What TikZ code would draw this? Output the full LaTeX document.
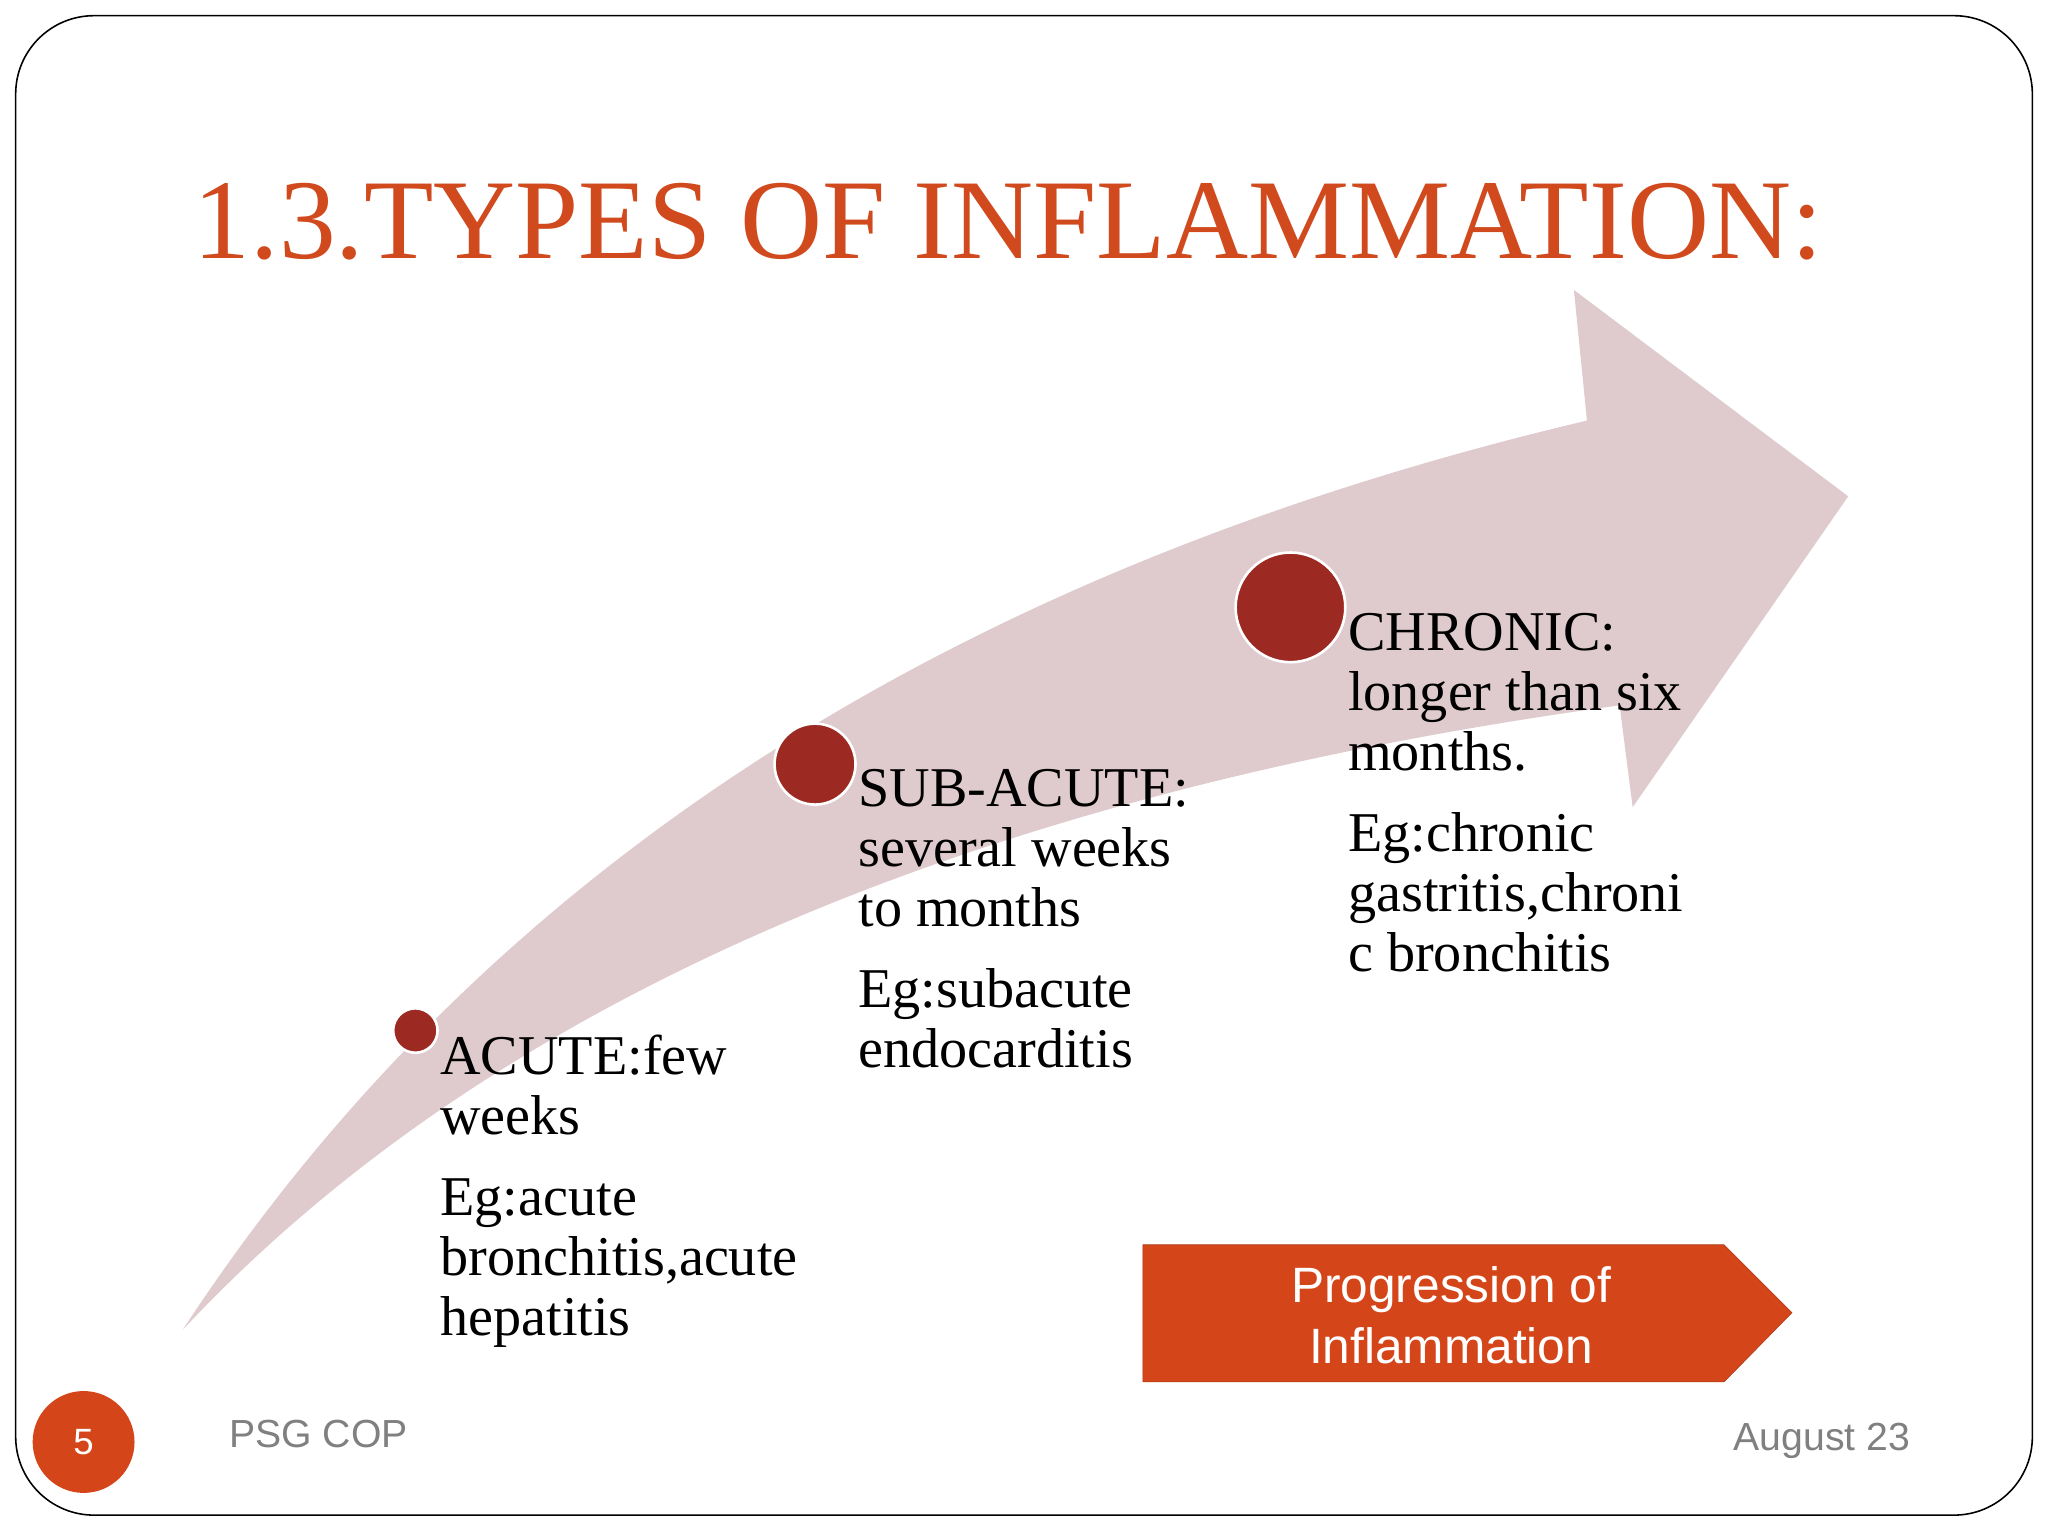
\documentclass[tikz,border=0pt]{standalone}
\usepackage{fontspec}
\setmainfont{Liberation Serif}
\newfontfamily\sansf{Liberation Sans}
\definecolor{band}{HTML}{DFCBCD}
\definecolor{dot}{HTML}{9C2A22}
\definecolor{orng}{HTML}{D4461A}
\definecolor{ttl}{HTML}{D04A1E}
\begin{document}
\begin{tikzpicture}[x=1pt,y=-1pt,
  dotc/.style={circle,fill=dot,draw=white,line width=2pt,inner sep=0pt},
  body/.style={anchor=north west,align=left,font=\fontsize{43}{46}\selectfont,inner sep=0pt}]
\useasboundingbox (0,0) rectangle (1568,1176);
\fill[white] (0,0) rectangle (1568,1176);
\draw[line width=1.2pt,rounded corners=60pt] (12,12) rectangle (1556,1160);
\node[font=\fontsize{87}{95}\selectfont,text=ttl] (title) at (772,170) {1.3.TYPES OF INFLAMMATION:};
% arrow band
\fill[band] (140,1018) .. controls (400,620) and (800,420) .. (1215,322)
  -- (1205,222) -- (1415,380) -- (1250,618) -- (1240,540)
  .. controls (800,600) and (400,740) .. (140,1018) -- cycle;
\node[dotc,minimum size=34pt] (c1) at (318,789) {};
\node[dotc,minimum size=62pt] (c2) at (624,585) {};
\node[dotc,minimum size=84pt] (c3) at (988,465) {};
\node[body] (t1) at (337,792) {ACUTE:few\\weeks\\[16pt]Eg:acute\\bronchitis,acute\\hepatitis};
\node[body] (t2) at (657,589) {SUB-ACUTE:\\several weeks\\to months\\[16pt]Eg:subacute\\endocarditis};
\node[body] (t3) at (1032,469) {CHRONIC:\\longer than six\\months.\\[16pt]Eg:chronic\\gastritis,chroni\\c bronchitis};
\fill[orng,draw=orng!80!black] (875,953) -- (1320,953) -- (1372,1005) -- (1320,1058) -- (875,1058) -- cycle;
\node[font=\sansf\fontsize{38}{46}\selectfont,text=white,align=center] (prog) at (1111,1007) {Progression of\\Inflammation};
\node[circle,fill=orng,minimum size=78pt,inner sep=0pt,text=white,font=\sansf\fontsize{28}{30}\selectfont] (pg) at (64,1104) {5};
\node[anchor=west,font=\sansf\fontsize{30}{32}\selectfont,text=gray] (psg) at (172,1098) {PSG COP};
\node[anchor=east,font=\sansf\fontsize{30}{32}\selectfont,text=gray] (date) at (1466,1103) {August 23};
\end{tikzpicture}
\end{document}
